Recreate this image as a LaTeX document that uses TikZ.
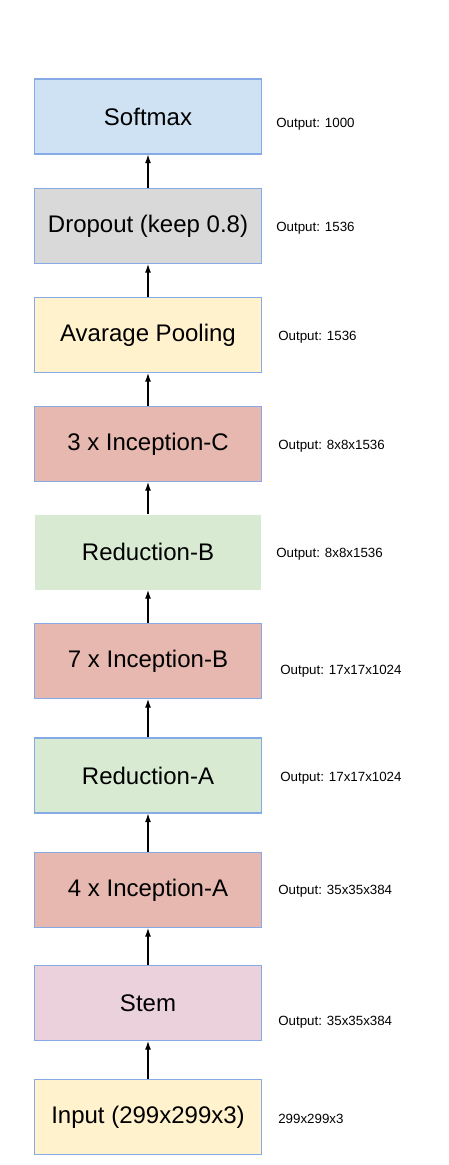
\documentclass[tikz,border=0pt]{standalone}
\usepackage{fontspec}
\setmainfont{Liberation Sans}
\usetikzlibrary{arrows.meta}
\definecolor{edgeblue}{HTML}{86AAE6}
\definecolor{softblue}{HTML}{CFE2F3}
\definecolor{dropgray}{HTML}{D9D9D9}
\definecolor{poolyellow}{HTML}{FFF2CC}
\definecolor{incred}{HTML}{E6B8AF}
\definecolor{redgreen}{HTML}{D9EAD3}
\definecolor{stempink}{HTML}{EAD1DC}
\begin{document}
\begin{tikzpicture}[x=0.75pt,y=-0.75pt,
layer/.style={draw=edgeblue,line width=0.8pt,minimum width=170pt,minimum height=56.25pt,inner sep=0pt,font=\fontsize{18}{20}\selectfont},
outlabel/.style={anchor=west,inner sep=0pt,font=\fontsize{10}{12}\selectfont},
>={Latex[length=6.5pt,width=4.5pt]}
]
\useasboundingbox (0,0) rectangle (449,1165);
% layers, bottom is the input
\node[layer,fill=poolyellow] (input) at (148,1117) {Input (299x299x3)};
\node[layer,fill=stempink] (stem) at (148,1003) {Stem};
\node[layer,fill=incred] (incA) at (148,890) {4 x Inception-A};
\node[layer,fill=redgreen] (redA) at (148,775.5) {Reduction-A};
\node[layer,fill=incred] (incB) at (148,661) {7 x Inception-B};
\node[layer,fill=redgreen,draw=none] (redB) at (148,552) {Reduction-B};
\node[layer,fill=incred] (incC) at (148,444) {3 x Inception-C};
\node[layer,fill=poolyellow] (pool) at (148,335) {Avarage Pooling};
\node[layer,fill=dropgray] (drop) at (148,226) {Dropout (keep 0.8)};
\node[layer,fill=softblue] (softmax) at (148,116.5) {Softmax};
% output sizes
\node[outlabel] (outsoftmax) at (276,124) {Output: 1000};
\node[outlabel] (outdrop) at (276,228) {Output: 1536};
\node[outlabel] (outpool) at (278,337) {Output: 1536};
\node[outlabel] (outincC) at (278,446) {Output: 8x8x1536};
\node[outlabel] (outredB) at (276,554) {Output: 8x8x1536};
\node[outlabel] (outincB) at (280,671) {Output: 17x17x1024};
\node[outlabel] (outredA) at (280,778) {Output: 17x17x1024};
\node[outlabel] (outincA) at (278,891) {Output: 35x35x384};
\node[outlabel] (outstem) at (278,1022) {Output: 35x35x384};
\node[outlabel] (outinput) at (278,1119) {299x299x3};
% connectors
\draw[->,line width=0.8pt] (input) -- (stem);
\draw[->,line width=0.8pt] (stem) -- (incA);
\draw[->,line width=0.8pt] (incA) -- (redA);
\draw[->,line width=0.8pt] (redA) -- (incB);
\draw[->,line width=0.8pt] (incB) -- (redB);
\draw[->,line width=0.8pt] (redB) -- (incC);
\draw[->,line width=0.8pt] (incC) -- (pool);
\draw[->,line width=0.8pt] (pool) -- (drop);
\draw[->,line width=0.8pt] (drop) -- (softmax);
\end{tikzpicture}
\end{document}
